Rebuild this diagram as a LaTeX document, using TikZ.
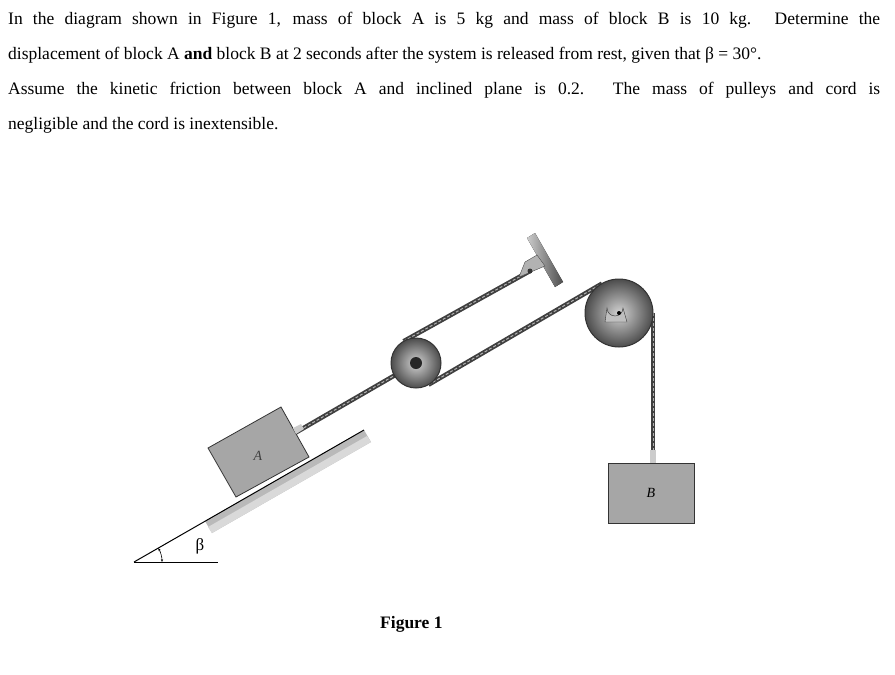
\documentclass[tikz,border=0pt]{standalone}
\usepackage{fontspec}
\setmainfont{Liberation Serif}
\usetikzlibrary{arrows.meta}
\begin{document}
\begin{tikzpicture}[x=1pt,y=-1pt,
  txt/.style={anchor=base west,inner sep=0pt,font=\fontsize{17.5}{20}\selectfont},
  cord/.style={line width=4.5pt,draw=black!75},
  cordhi/.style={line width=1pt,draw=gray!60,dash pattern=on 3pt off 2pt},
  blockbox/.style={draw=black!80,line width=0.8pt,fill=gray!70},
  pulley/.style={draw=black!80,line width=1pt,inner color=gray!35,outer color=black!70}]
\useasboundingbox (0,0) rectangle (895,675);
% text
\node[txt] (l1) at (8,24) {\makebox[872pt][s]{In the diagram shown in Figure 1, mass of block A is 5 kg and mass of block B is 10 kg. Determine the}};
\node[txt] (l2) at (8,59) {displacement of block A \textbf{and} block B at 2 seconds after the system is released from rest, given that β = 30°.};
\node[txt] (l3) at (8,94) {\makebox[872pt][s]{Assume the kinetic friction between block A and inclined plane is 0.2. The mass of pulleys and cord is}};
\node[txt] (l4) at (8,129) {negligible and the cord is inextensible.};
\node[txt,font=\fontsize{17.5}{20}\selectfont\bfseries] (fig) at (380,628) {Figure 1};
% incline
\coordinate (apex) at (134,562);
\coordinate (itop) at (364,430);
\fill[gray!55] (205,521) -- (itop) -- (371,442) -- (212,533) -- cycle;
\fill[gray!30] (208,527) -- (367,436) -- (371,442) -- (212,533) -- cycle;
\draw[line width=1pt] (apex) -- (itop);
\draw[line width=1pt] (apex) -- (218,562);
\draw[{Stealth[length=3pt]}-{Stealth[length=3pt]},line width=0.6pt] (apex) ++(28,0) arc[start angle=0,end angle=-30,radius=28];
\node[font=\fontsize{17}{20}\selectfont] (beta) at (200,546) {β};
% geometry
\coordinate (M) at (416,363);
\coordinate (T) at (619,313);
\coordinate (P) at (530,271);
\coordinate (Amid) at (295,433);
\coordinate (Mt) at (403.5,341.3);
\coordinate (Mb) at (428.5,384.7);
\coordinate (Tt) at (602,283.6);
\coordinate (Tr) at (653,313);
\coordinate (Btop) at (653,463);
% cords
\foreach \a/\b in {Amid/M,Mt/P,Mb/Tt,Tr/Btop}{
  \draw[cord] (\a) -- (\b);
  \draw[cordhi] (\a) -- (\b);}
% block A
\draw[blockbox] (208,448) -- (281,407) -- (309,457) -- (236,497) -- cycle;
\node[font=\itshape\fontsize{14}{16}\selectfont,text=black!75] (A) at (258,456) {A};
\fill[gray!40] (293,428) -- (301,424) -- (304,429) -- (296,434) -- cycle;
% block B
\node[blockbox,minimum width=86pt,minimum height=60pt,inner sep=0pt] (B) at (651,493) {\itshape\fontsize{14}{16}\selectfont B};
\fill[gray!40] (650,450) rectangle (656,463);
% wall and support
\fill[left color=gray!40,right color=black!70] (527,238) -- (535,233) -- (563,282) -- (555,287) -- cycle;
\fill[gray!60,draw=black!70] (519,277) -- (525,262) -- (537,255) -- (545,266) -- cycle;
\fill[black!80] (P) circle (2.5);
% pulleys
\draw[pulley] (M) circle (25);
\fill[black!85] (M) circle (6);
\draw[pulley] (T) circle (34);
\draw[fill=gray!50,draw=black!80] (605,322) -- (607,308) arc[start angle=180,end angle=0,radius=8] -- (627,322) -- cycle;
\fill[black] (T) circle (2);
\end{tikzpicture}
\end{document}
